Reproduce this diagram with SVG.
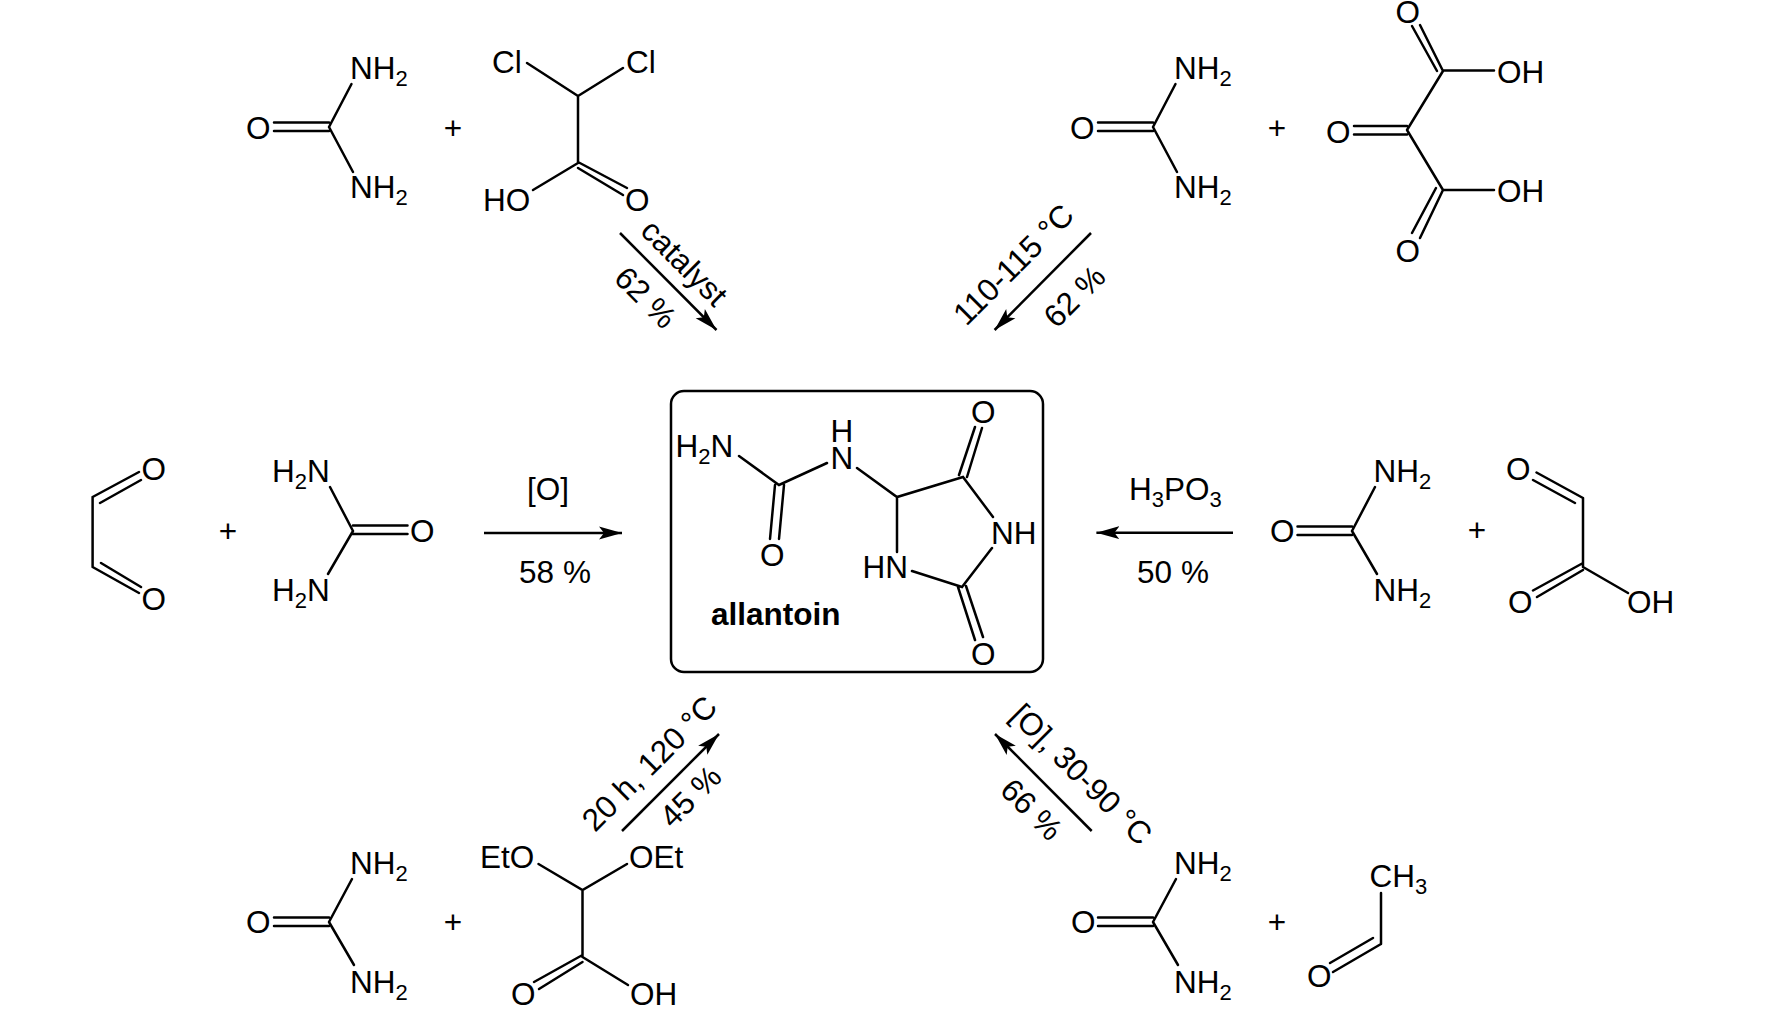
<svg xmlns="http://www.w3.org/2000/svg" width="1773" height="1035" viewBox="0 0 1773 1035">
<style>
text{font-family:"Liberation Sans",Arial,sans-serif;font-size:31.5px;fill:#000}
.c{text-anchor:middle}
.s{font-size:22px}
.bold{font-weight:bold;font-size:31.500px}
.b{stroke:#000;stroke-width:2.500;fill:none;stroke-linecap:round}
.a{stroke:#000;stroke-width:2.500;fill:none;marker-end:url(#head)}
</style>
<defs>
<marker id="head" markerUnits="userSpaceOnUse" markerWidth="26" markerHeight="16" refX="23" refY="8" orient="auto"><path d="M0,1.500 L23,8 L0,14.500 L5,8 z" fill="#000"/></marker>
</defs>
<rect width="1773" height="1035" fill="#fff"/>

<g id="urea-top-left">
<path class="b" d="M274,122.500H329M274,131H329M329,127L351.500,84M329,127L353,172"/>
<text x="246" y="139">O</text>
<text x="350" y="79">NH<tspan class="s" dy="7">2</tspan></text>
<text x="350" y="198">NH<tspan class="s" dy="7">2</tspan></text>
</g>
<text id="plus-1" class="c" x="453" y="139">+</text>
<g id="dichloroacetic-acid">
<path class="b" d="M527,63L578,96M623,68L578,96M578,96V163M578,163L533,190M578,162L627,188M578,168L623,195"/>
<text x="492" y="73">Cl</text>
<text x="626" y="73">Cl</text>
<text x="483" y="211">HO</text>
<text x="625" y="211">O</text>
</g>

<g id="urea-top-right">
<path class="b" d="M1098,122.500H1153M1098,131H1153M1153,127L1175.500,84M1153,127L1177,172"/>
<text x="1070" y="139">O</text>
<text x="1174" y="79">NH<tspan class="s" dy="7">2</tspan></text>
<text x="1174" y="198">NH<tspan class="s" dy="7">2</tspan></text>
</g>
<text id="plus-2" class="c" x="1277" y="139">+</text>
<g id="mesoxalic-acid">
<path class="b" d="M1354,126H1407M1354,134.500H1407M1407,130L1443,71M1407,130L1443,190M1443,70.500H1494M1443,190H1494M1443,71L1420,25M1437,71L1412,26M1443,190L1420,238M1436,188L1412,233"/>
<text x="1326" y="142.500">O</text>
<text x="1395.500" y="23">O</text>
<text x="1395.500" y="262">O</text>
<text x="1497" y="82.500">OH</text>
<text x="1497" y="201.500">OH</text>
</g>

<g id="glyoxal">
<path class="b" d="M92.600,497V567M92.600,497L139,472M100,503L141,480M92.600,567L139,593M101,563L141,587"/>
<text x="141.500" y="480">O</text>
<text x="141.500" y="610">O</text>
</g>
<text id="plus-3" class="c" x="228" y="542">+</text>
<g id="urea-mid-left">
<path class="b" d="M353,531L330,487M353,531L328,574M353,525.500H407.500M353,534H407.500"/>
<text x="272" y="482">H<tspan class="s" dy="7">2</tspan><tspan dy="-7">N</tspan></text>
<text x="272" y="600.500">H<tspan class="s" dy="7">2</tspan><tspan dy="-7">N</tspan></text>
<text x="410" y="541.500">O</text>
</g>

<g id="allantoin">
<rect x="671" y="391" width="372" height="281" rx="13" fill="none" stroke="#000" stroke-width="2.500"/>
<path class="b" d="M739,456L779,485L827,463M775,485L770,539M784,485L779,539M857,468L897,497L963,477L993,517M959,475L975,427M967,477L982,428M897,497V552M912,571L962,587L992,548M958,587L975,640M966,586L983,637"/>
<text x="675.500" y="457">H<tspan class="s" dy="7">2</tspan><tspan dy="-7">N</tspan></text>
<text x="830.500" y="441.500">H</text>
<text x="830.500" y="469">N</text>
<text x="760" y="565.500">O</text>
<text x="971" y="423">O</text>
<text x="991" y="544">NH</text>
<text x="862.500" y="578">HN</text>
<text x="971" y="665">O</text>
<text class="bold" x="711" y="625">allantoin</text>
</g>

<g id="urea-mid-right">
<path class="b" d="M1297.500,526.500H1352M1297.500,535H1352M1352,531L1375,487M1352,531L1377,574"/>
<text x="1270" y="541.500">O</text>
<text x="1373.500" y="482">NH<tspan class="s" dy="7">2</tspan></text>
<text x="1373.500" y="601">NH<tspan class="s" dy="7">2</tspan></text>
</g>
<text id="plus-4" class="c" x="1477" y="541">+</text>
<g id="glyoxylic-acid">
<path class="b" d="M1583,498V567M1583,498L1536.500,472.500M1575,503L1533,480M1583,563L1533,590.500M1583,570L1537,597M1583,567L1628,593"/>
<text x="1506" y="480">O</text>
<text x="1508" y="613">O</text>
<text x="1627" y="613">OH</text>
</g>

<g id="urea-bottom-left">
<path class="b" d="M274,917.500H329M274,926H329M329,922L352,879M329,922L354,965"/>
<text x="246" y="933">O</text>
<text x="350" y="874">NH<tspan class="s" dy="7">2</tspan></text>
<text x="350" y="993">NH<tspan class="s" dy="7">2</tspan></text>
</g>
<text id="plus-5" class="c" x="453" y="933">+</text>
<g id="diethoxyacetic-acid">
<path class="b" d="M538.500,864L582.500,890L627,864M582.500,890V957M582.500,957L628,985M582.500,955L534,982M582.500,962L539,989"/>
<text x="480" y="868">EtO</text>
<text x="629" y="868">OEt</text>
<text x="511" y="1005">O</text>
<text x="630" y="1005">OH</text>
</g>

<g id="urea-bottom-right">
<path class="b" d="M1098,917.500H1153M1098,926H1153M1153,922L1176,879M1153,922L1178,965"/>
<text x="1071" y="933">O</text>
<text x="1174" y="874">NH<tspan class="s" dy="7">2</tspan></text>
<text x="1174" y="993">NH<tspan class="s" dy="7">2</tspan></text>
</g>
<text id="plus-6" class="c" x="1277" y="933">+</text>
<g id="acetaldehyde">
<path class="b" d="M1381,893V944M1381,944L1333,972M1373,938L1330,963"/>
<text x="1369.500" y="887">CH<tspan class="s" dy="7">3</tspan></text>
<text x="1307" y="987">O</text>
</g>

<g id="connectors">
<path class="a" d="M620,233L716.500,330"/>
<path class="a" d="M1091,233L994.600,330"/>
<path class="a" d="M484,533H622"/>
<path class="a" d="M1233,532.700H1096.400"/>
<path class="a" d="M622,831L719,734"/>
<path class="a" d="M1091.700,831L995,734"/>
</g>

<g id="labels">
<text class="c" transform="translate(683,264) rotate(45)" dy="9">catalyst</text>
<text class="c" transform="translate(645,298) rotate(45)" dy="10">62 %</text>
<text class="c" transform="translate(1014,265) rotate(-45)" dy="10">110-115 °C</text>
<text class="c" transform="translate(1075,297) rotate(-45)" dy="10">62 %</text>
<text class="c" x="548" y="500">[O]</text>
<text class="c" x="555" y="583">58 %</text>
<text x="1129" y="500">H<tspan class="s" dy="7">3</tspan><tspan dy="-7">PO</tspan><tspan class="s" dy="7">3</tspan></text>
<text class="c" x="1173" y="583">50 %</text>
<text class="c" transform="translate(650,764) rotate(-45)" dy="10">20 h, 120 °C</text>
<text class="c" transform="translate(691,797) rotate(-45)" dy="10">45 %</text>
<text class="c" transform="translate(1081,775) rotate(45)" dy="10">[O], 30-90 °C</text>
<text class="c" transform="translate(1031,810) rotate(45)" dy="10">66 %</text>
</g>
</svg>
